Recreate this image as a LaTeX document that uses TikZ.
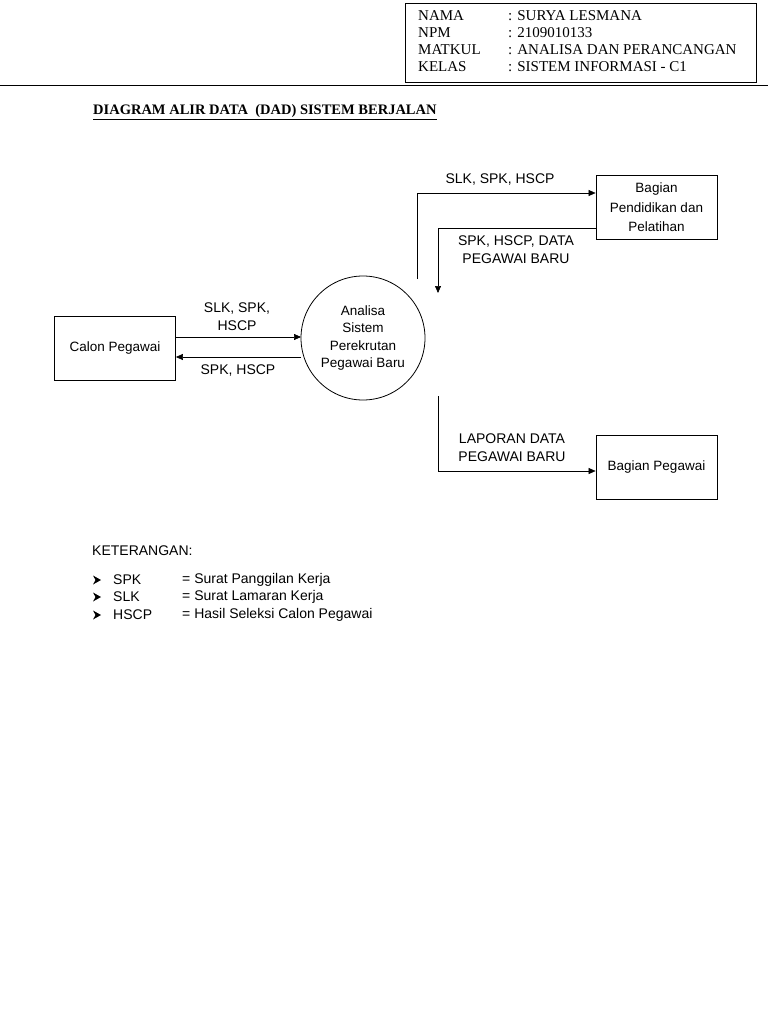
\documentclass[tikz,border=0pt]{standalone}
\usepackage{fontspec}
\setmainfont{Liberation Serif}
\newfontfamily\sans{Liberation Sans}
\usetikzlibrary{arrows.meta}
\begin{document}
\begin{tikzpicture}[x=1pt,y=-1pt,
  box/.style={draw,line width=0.8pt,minimum width=121pt,minimum height=64pt,align=center,font=\sans\fontsize{13.5}{19.5}\selectfont},
  lbl/.style={align=center,font=\sans\fontsize{14}{18}\selectfont},
  flow/.style={line width=0.6pt,-{Triangle[length=7pt,width=6pt]}},
  hd/.style={anchor=west,font=\fontsize{15}{17}\selectfont,inner sep=0pt},
  ket/.style={anchor=west,inner sep=0pt,font=\sans\fontsize{14}{16}\selectfont}]
\useasboundingbox (0,0) rectangle (768,1024);
\node[draw,line width=0.8pt,minimum width=351pt,minimum height=79pt,anchor=north west] (hdr) at (405,3) {};
\draw[line width=0.8pt] (0,85) -- (768,85);
\foreach \a/\b/\y in {NAMA/SURYA LESMANA/16,NPM/2109010133/33,MATKUL/ANALISA DAN PERANCANGAN/50,KELAS/SISTEM INFORMASI - C1/67}{
  \node[hd] at (418,\y) {\a};
  \node[hd] at (508,\y) {: \b};
}
\node[anchor=west,inner sep=0pt,font=\bfseries\fontsize{14.5}{16}\selectfont] (title) at (93,112) {\underline{DIAGRAM ALIR DATA\ \ (DAD) SISTEM BERJALAN}};
\node[draw,circle,line width=0.8pt,minimum size=124pt,inner sep=0pt,align=center,font=\sans\fontsize{13.5}{17.5}\selectfont] (p) at (363,338) {Analisa\\Sistem\\Perekrutan\\Pegawai Baru};
\node[box] (cp) at (115,348) {Calon Pegawai};
\node[box] (bpp) at (656.5,207.5) {Bagian\\Pendidikan dan\\Pelatihan};
\node[box] (bp) at (656.5,467.5) {Bagian Pegawai};
\coordinate (c1) at (417,193);
\coordinate (c2) at (438,228);
\coordinate (c3) at (438,471);
\draw[flow] (417,279) -- (c1) -- (c1 -| bpp.west);
\draw[flow] (bpp.west |- c2) -- (c2) -- (438,293);
\draw[flow] (438,396) -- (c3) -- (c3 -| bp.west);
\draw[flow] (cp.east |- 0,337) -- (301,337);
\draw[flow] (301,357) -- (cp.east |- 0,357);
\node[lbl] at (500,180) {SLK, SPK, HSCP};
\node[lbl] at (516,250) {SPK, HSCP, DATA\\PEGAWAI BARU};
\node[lbl] at (237,317) {SLK, SPK,\\HSCP};
\node[lbl] at (238,371) {SPK, HSCP};
\node[lbl] at (512,448) {LAPORAN DATA\\PEGAWAI BARU};
\node[ket] at (92,551) {KETERANGAN:};
\foreach \k/\v/\y in {SPK/Surat Panggilan Kerja/580,SLK/Surat Lamaran Kerja/597,HSCP/Hasil Seleksi Calon Pegawai/615}{
  \fill (93,\y-4.5) -- (101,\y) -- (93,\y+4.5) -- (95.5,\y) -- cycle;
  \node[ket] at (113,\y) {\k};
  \node[ket] at (182,\y) {= \v};
}
\end{tikzpicture}
\end{document}
